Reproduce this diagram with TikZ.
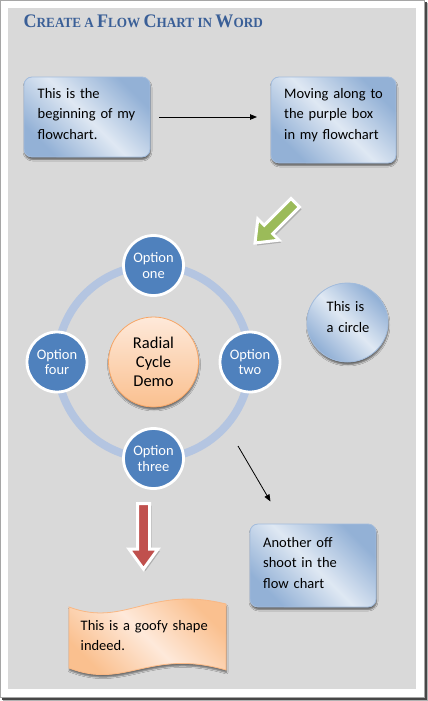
\documentclass[tikz,border=0pt]{standalone}
\usepackage{fontspec}
\setmainfont{Carlito}
\newfontfamily\titlefont{Liberation Serif}
\usetikzlibrary{shadows.blur,arrows.meta,shapes.geometric}
\definecolor{bggray}{HTML}{D9D9D9}
\definecolor{titleblue}{HTML}{3A5F97}
\definecolor{bdark}{HTML}{93B1D6}
\definecolor{blight}{HTML}{DFE8F3}
\definecolor{bborder}{HTML}{A3BCDC}
\definecolor{optblue}{HTML}{4F81BD}
\definecolor{ringblue}{HTML}{B4C5E1}
\definecolor{olight}{HTML}{FEE9DA}
\definecolor{odark}{HTML}{FAC08F}
\definecolor{oborder}{HTML}{F7A666}
\definecolor{agreen}{HTML}{9BBB59}
\definecolor{ared}{HTML}{C0504D}
\tikzset{
  softshadow/.style={blur shadow={shadow xshift=0.5pt, shadow yshift=-2.5pt, shadow blur radius=1.5pt, shadow opacity=55}},
  bluebox/.style={rectangle, rounded corners=8pt, fill=bdark, softshadow, inner sep=0, outer sep=0},
  boxedge/.style={draw=bborder, rounded corners=8pt, line width=0.8pt},
  txt/.style={inner sep=0, align=left, text width=120pt, font=\fontsize{14.5}{20.5}\selectfont, text=black, anchor=base west},
  opt/.style={circle, fill=optblue, draw=white, line width=2.8pt, minimum size=60pt, inner sep=0,
    text=white, align=center, font=\fontsize{14.5}{15.5}\selectfont},
  conn/.style={-{Triangle[length=7pt,width=5.5pt]}, line width=0.8pt, black},
  blockarrow/.style={line width=3pt, draw=white, line join=miter},
  arrowshadow/.style={fill=black!45, opacity=0.55}
}
% diagonal light band, to be used inside a clip
\newcommand\myband[4]{% center, half width, dark, light
  \shade[left color=#3, right color=#3, middle color=#4, transform canvas={shift={(#1)}, rotate=45}]
    (-#2,-130) rectangle (#2,130);}
\begin{document}
\begin{tikzpicture}[x=1pt,y=-1pt]
\useasboundingbox (0,0) rectangle (428,701);
% page frame
\fill[white] (0,0) rectangle (428,701);
\fill[black!30] (3,3) rectangle (428,701);
\fill[black!72] (2,2) rectangle (426.5,699.5);
\filldraw[fill=white, draw=black!35, line width=0.8pt] (0.4,0.4) rectangle (424,697);
\fill[bggray] (8,8) rectangle (416,689);
% title
\node[anchor=base west, text=titleblue, inner sep=0] (title) at (23.5,28)
  {\scalebox{0.94}[1]{\titlefont\bfseries{\fontsize{19.2}{19}\selectfont C}{\fontsize{14}{14}\selectfont REATE A }{\fontsize{19.2}{19}\selectfont F}{\fontsize{14}{14}\selectfont LOW }{\fontsize{19.2}{19}\selectfont C}{\fontsize{14}{14}\selectfont HART IN }{\fontsize{19.2}{19}\selectfont W}{\fontsize{14}{14}\selectfont ORD}}};
% boxes
\node[bluebox, minimum width=126pt, minimum height=80pt] (b1) at (87,117) {};
\node[bluebox, minimum width=125pt, minimum height=86pt] (b2) at (333.5,120) {};
\node[bluebox, minimum width=126pt, minimum height=83pt] (b3) at (313,565.5) {};
\foreach \b in {b1,b2,b3}{
  \begin{scope}
    \clip[rounded corners=8pt] (\b.south west) rectangle (\b.north east);
    \myband{\b.center}{50}{bdark}{blight}
  \end{scope}
  \draw[boxedge] (\b.south west) rectangle (\b.north east);
}
\node[txt] (t1) at (37.5,98) {This is the\\beginning of my\\flowchart.};
\node[txt] (t2) at (284,98) {Moving along to\\the purple box\\in my flowchart};
\node[txt] (t3) at (263,547) {Another off\\shoot in the\\flow chart};
\draw[conn] ([xshift=9pt]b1.east) -- ([xshift=-14pt]b2.west |- b1.east);
% green arrow
\begin{scope}[shift={(257,245.5)}, rotate=225]
  \fill[arrowshadow] (0,0) -- (-19,15) -- (-19,6) -- (-57,6) -- (-57,-6) -- (-19,-6) -- (-19,-15) -- cycle;
\end{scope}
\begin{scope}[shift={(255,243)}, rotate=225]
  \filldraw[blockarrow, fill=agreen] (0,0) -- (-19,15) -- (-19,6) -- (-57,6) -- (-57,-6) -- (-19,-6) -- (-19,-15) -- cycle;
\end{scope}
% radial cycle
\coordinate (cc) at (153.5,362);
\draw[ringblue, line width=8pt] (cc) circle[radius=96.5];
\node[circle, minimum size=90pt, inner sep=0, top color=olight, bottom color=odark, draw=oborder, line width=0.8pt,
  blur shadow={shadow xshift=0.5pt, shadow yshift=-2.5pt, shadow blur radius=1.5pt, shadow opacity=50},
  align=center, font=\fontsize{16.5}{18.7}\selectfont] (demo) at (cc) {Radial\\Cycle\\Demo};
\node[opt] (o1) at (153.5,265.5) {Option\\one};
\node[opt] (o2) at (250,362) {Option\\two};
\node[opt] (o3) at (153.5,458.5) {Option\\three};
\node[opt] (o4) at (57,362) {Option\\four};
% circle
\node[ellipse, minimum width=81pt, minimum height=79pt, inner sep=0, outer sep=0, fill=bdark, softshadow] (circ) at (347.5,322.5) {};
\begin{scope}
  \clip (circ.center) ellipse[x radius=40.5, y radius=39.5];
  \myband{circ.center}{38}{bdark}{blight}
\end{scope}
\draw[bborder, line width=0.8pt] (circ.center) ellipse[x radius=40.5, y radius=39.5];
\node[txt] (tc) at (326.5,311.7) {This is\\a circle};
% thin arrow
\coordinate (s1) at (238,446);
\coordinate (e1) at (270.5,501.5);
\draw[conn] (s1) -- (e1);
% red arrow
\begin{scope}[shift={(145.5,571)}, rotate=270]
  \fill[arrowshadow] (0,0) -- (-20,14.5) -- (-20,6) -- (-65.5,6) -- (-65.5,-6) -- (-20,-6) -- (-20,-14.5) -- cycle;
\end{scope}
\begin{scope}[shift={(143.5,569)}, rotate=270]
  \filldraw[blockarrow, fill=ared] (0,0) -- (-20,14.5) -- (-20,6) -- (-65.5,6) -- (-65.5,-6) -- (-20,-6) -- (-20,-14.5) -- cycle;
\end{scope}
% goofy shape
\def\goofypath{(69,607) .. controls (125,628) and (150,585) .. (226,604) -- (226,670)
  .. controls (150,648) and (125,690) .. (69,668) -- cycle}
\fill[odark, blur shadow={shadow xshift=0.5pt, shadow yshift=-2.5pt, shadow blur radius=1.5pt, shadow opacity=50}] \goofypath;
\coordinate (gc) at (147.5,638);
\begin{scope}
  \clip \goofypath;
  \myband{gc}{58}{odark}{olight}
\end{scope}
\draw[oborder!80, line width=0.8pt] \goofypath;
\node[txt, text width=150pt] (tg) at (80.5,630) {This is a goofy shape\\indeed.};
\end{tikzpicture}
\end{document}
